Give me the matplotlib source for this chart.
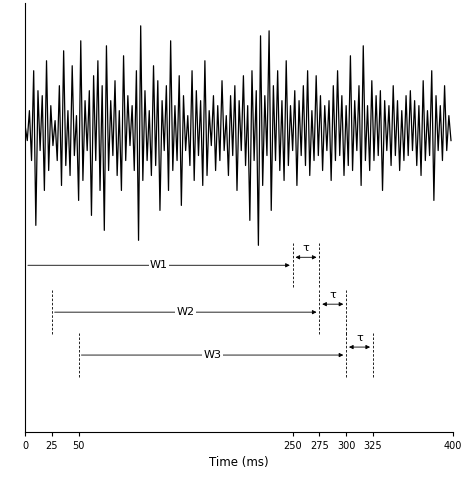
import matplotlib
matplotlib.use("Agg")
import matplotlib.pyplot as plt
import numpy as np

# signal samples (every 2 ms), relative amplitude read by eye
signal = [5,-10,20,-30,60,-95,40,-20,35,-60,70,-40,25,-15,10,-30,45,-55,80,-35,
 20,-45,65,-25,15,-70,90,-50,30,-20,40,-85,55,-30,70,-60,45,-100,85,-40,
 30,-25,50,-45,20,-60,75,-30,35,-15,25,-40,60,-110,105,-50,40,-30,20,-45,
 65,-35,50,-80,30,-20,45,-60,90,-40,25,-30,55,-75,35,-20,15,-35,60,-50,
 40,-25,30,-55,70,-45,20,-15,35,-40,25,-30,50,-20,15,-45,35,-25,45,-60,
 30,-20,55,-35,25,-90,60,-30,40,-115,95,-55,35,-25,100,-80,45,-30,60,-40,
 30,-50,70,-35,25,-20,40,-55,30,-25,45,-35,60,-45,20,-30,55,-25,35,-40,
 25,-20,30,-50,45,-30,60,-25,35,-45,25,-35,75,-40,30,-20,45,-55,85,-30,
 25,-40,50,-30,35,-25,40,-60,30,-20,25,-35,45,-25,30,-40,20,-30,35,-25,
 40,-20,30,-35,25,-45,50,-30,20,-25,60,-70,35,-20,25,-30,45,-20,15,-10]
t = np.arange(len(signal)) * 2.0

baseline = 302
windows = [("W1", 0, 250, 167), ("W2", 25, 275, 120), ("W3", 50, 300, 77)]
tau = 25
xticks = [0, 25, 50, 250, 275, 300, 325, 400]

fig = plt.figure(figsize=(4.74, 4.82), dpi=100)
ax = fig.add_axes([0.053, 0.104, 0.903, 0.89])
ax.plot(t, baseline + np.array(signal), color="black", lw=0.9)

for name, s, e, y in windows:
    ax.annotate("", xy=(e, y), xytext=(s, y),
                arrowprops=dict(arrowstyle="-|>", color="black", lw=0.6, mutation_scale=6))
    ax.text((s + e) / 2, y, name, ha="center", va="center", fontsize=8,
            bbox=dict(fc="white", ec="none", pad=1))
    ax.annotate("", xy=(e + tau, y + 8), xytext=(e, y + 8),
                arrowprops=dict(arrowstyle="<|-|>", color="black", lw=0.6, mutation_scale=6))
    ax.text(e + tau / 2, y + 12, "τ", ha="center", va="bottom", fontsize=8)
    for xv in (s, e, e + tau):
        if xv == 0:
            continue
        top = y + 22 if xv != s else y + 22
        ax.plot([xv, xv], [y - 22, top], color="black", lw=0.6, ls=(0, (3, 2)))

ax.set_xlim(0, 400)
ax.set_ylim(0, 430)
ax.set_xticks(xticks)
ax.tick_params(axis="x", labelsize=7, length=3)
ax.set_yticks([])
ax.spines["top"].set_visible(False)
ax.spines["right"].set_visible(False)
ax.set_xlabel("Time (ms)", fontsize=8.5)
fig.savefig("out.png", dpi=100)
